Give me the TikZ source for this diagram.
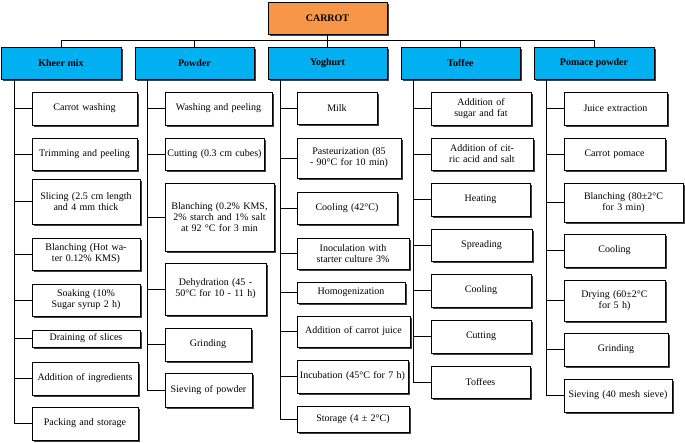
\documentclass[tikz,border=0pt]{standalone}
\usepackage{fontspec}
\setmainfont{Liberation Serif}
\usetikzlibrary{shadows}
\definecolor{carrotorange}{HTML}{F79646}
\definecolor{headblue}{HTML}{00B0F0}
\tikzset{
  box/.style={draw=black, line width=0.9pt, inner sep=1pt, align=center,
    font=\fontsize{10}{11}\selectfont,
    drop shadow={shadow xshift=1.6pt, shadow yshift=-1.6pt, fill=black!75, opacity=1}},
  head/.style={box, fill=headblue, font=\bfseries\fontsize{10}{11}\selectfont},
  stage/.style={box, fill=white},
  link/.style={line width=0.9pt}
}
\newcommand{\stagenode}[6]{% name, x1, y1, x2, y2, text
  \pgfmathsetmacro\bw{#4-#2}\pgfmathsetmacro\bh{#5-#3}\pgfmathsetmacro\tw{#4-#2-4}
  \node[stage, minimum width=\bw pt, minimum height=\bh pt, text width=\tw pt]
    (#1) at ({(#2+#4)/2},{(#3+#5)/2}) {#6};}
\begin{document}
\begin{tikzpicture}[x=1pt, y=-1pt]
  \useasboundingbox (0,0) rectangle (685,442);
  % root and product headers
  \node[box, fill=carrotorange, font=\bfseries\fontsize{10}{11}\selectfont,
    minimum width=119pt, minimum height=32pt] (carrot) at (327.5,18) {CARROT};
  \node[head, minimum width=120pt, minimum height=32pt] (kheer) at (61,63) {Kheer mix};
  \node[head, minimum width=119pt, minimum height=32pt] (powder) at (194.5,63) {Powder};
  \node[head, minimum width=119pt, minimum height=32pt] (yoghurt) at (327.5,63) {Yoghurt};
  \node[head, minimum width=119pt, minimum height=32pt] (toffee) at (460.5,63) {Toffee};
  \node[head, minimum width=120pt, minimum height=32pt] (pomace) at (594,63) {Pomace powder};
  \coordinate (bus) at (327.5,40);
  \draw[link] (carrot.south) -- (bus);
  \foreach \h in {kheer,powder,yoghurt,toffee,pomace}
    \draw[link] (bus) -| (\h.north);

  % Kheer mix
  \foreach \n/\ya/\xb/\yb/\t in {k1/92/137/125/Carrot washing, k2/138/137/170/Trimming and peeling,
      k3/179/140/224/{Slicing (2.5 cm length and 4 mm thick}, k4/238/140/270/{Blanching (Hot water 0.12\% KMS)},
      k5/284/140/316/{Soaking (10\% Sugar syrup 2 h)}, k6/330/140/347/Draining of slices,
      k7/362/138/395/Addition of ingredients, k8/407/138/440/Packing and storage}
    \stagenode{\n}{32}{\ya}{\xb}{\yb}{\t};
  \coordinate (kspine) at (14,79);
  \foreach \n in {k1,k2,k3,k4,k5,k6,k7,k8}
    \draw[link] (kspine) |- (\n.west);

  % Powder
  \foreach \n/\ya/\xb/\yb/\t in {p1/92/272/125/Washing and peeling, p2/138/264/170/{Cutting (0.3 cm cubes)},
      p3/183/274/251/{Blanching (0.2\% KMS, 2\% starch and 1\% salt at 92 \textdegree C for 3 min},
      p4/263/266/315/{Dehydration (45 - 50\textdegree C for 10 - 11 h)},
      p5/328/251/361/Grinding, p6/373/252/407/Sieving of powder}
    \stagenode{\n}{165}{\ya}{\xb}{\yb}{\t};
  \coordinate (pspine) at (147,79);
  \foreach \n in {p1,p2,p3,p4,p5,p6}
    \draw[link] (pspine) |- (\n.west);

  % Yoghurt
  \foreach \n/\ya/\xb/\yb/\t in {y1/92/377/124/Milk, y2/138/401/178/{Pasteurization (85 - 90\textdegree C for 10 min)},
      y3/192/397/224/{Cooling (42\textdegree C)}, y4/238/409/269/{Inoculation with starter culture 3\%},
      y5/282/405/303/Homogenization, y6/316/410/347/Addition of carrot juice,
      y7/360/408/393/{Incubation (45\textdegree C for 7 h)}, y8/406/409/432/{Storage (4 ± 2\textdegree C)}}
    \stagenode{\n}{297}{\ya}{\xb}{\yb}{\t};
  \coordinate (yspine) at (280,79);
  \foreach \n in {y1,y2,y3,y4,y5,y6,y7,y8}
    \draw[link] (yspine) |- (\n.west);

  % Toffee
  \foreach \n/\ya/\xb/\yb/\t in {t1/92/531/125/Addition of sugar and fat, t2/138/533/170/Addition of citric acid and salt,
      t3/183/530/216/Heating, t4/229/532/261/Spreading, t5/274/531/307/Cooling,
      t6/320/531/353/Cutting, t7/366/530/398/Toffees}
    \stagenode{\n}{431}{\ya}{\xb}{\yb}{\t};
  \coordinate (tspine) at (413,79);
  \foreach \n in {t1,t2,t3,t4,t5,t6,t7}
    \draw[link] (tspine) |- (\n.west);

  % Pomace powder
  \foreach \n/\ya/\xb/\yb/\t in {m1/92/667/125/Juice extraction, m2/138/665/170/Carrot pomace,
      m3/183/683/222/{Blanching (80±2\textdegree C for 3 min)}, m4/234/665/267/Cooling,
      m5/280/665/321/{Drying (60±2\textdegree C for 5 h)}, m6/333/668/366/Grinding,
      m7/379/672/412/{Sieving (40 mesh sieve)}}
    \stagenode{\n}{564}{\ya}{\xb}{\yb}{\t};
  \coordinate (mspine) at (546,79);
  \foreach \n in {m1,m2,m3,m4,m5,m6,m7}
    \draw[link] (mspine) |- (\n.west);
\end{tikzpicture}
\end{document}
